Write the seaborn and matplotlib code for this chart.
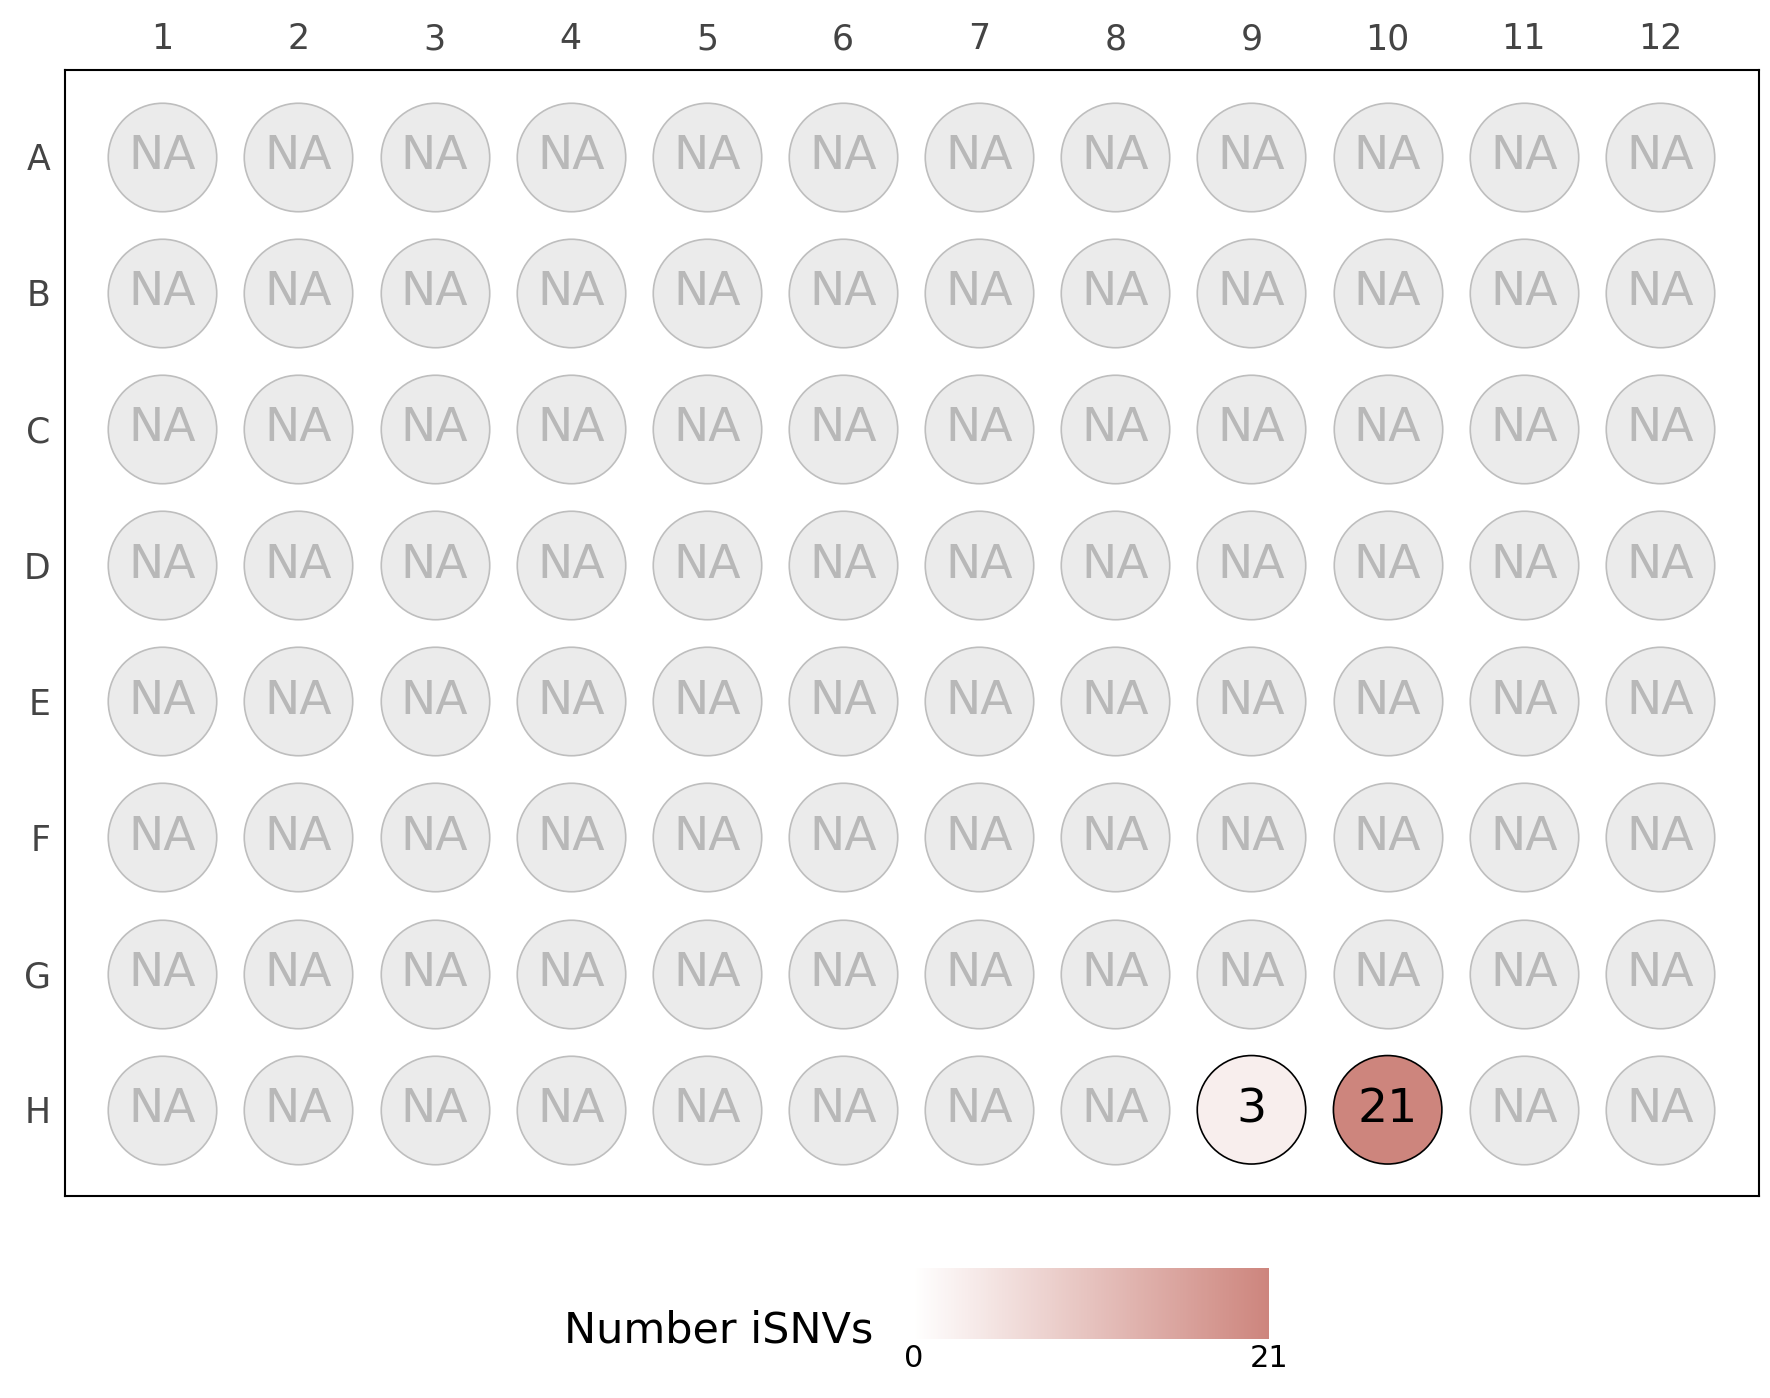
import numpy as np
import pandas as pd
import seaborn as sns
import matplotlib
matplotlib.use("Agg")
import matplotlib.pyplot as plt
from matplotlib.colors import LinearSegmentedColormap, Normalize

rows = ["A", "B", "C", "D", "E", "F", "G", "H"]
cols = list(range(1, 13))
filled_wells = ["H9", "H10"]
filled_values = [3, 21]

sns.set_theme(style="white")
plt.rcParams['font.family'] = ['DejaVu Sans']

recs = []
vals = dict(zip(filled_wells, filled_values))
for ri, r in enumerate(rows):
    for c in cols:
        recs.append(dict(row=ri + 1, col=c, value=vals.get(f"{r}{c}", np.nan)))
df = pd.DataFrame(recs)

cmap = LinearSegmentedColormap.from_list("w", ["#FFFFFF", "#CD857D"])
norm = Normalize(0, 21)

fig = plt.figure(figsize=(17.7, 13.98), dpi=100)
ax = fig.add_axes([0.0365, 0.1445, 0.9571, 0.8052])
na = df[df.value.isna()]
ok = df[df.value.notna()]
sns.scatterplot(data=na, x="col", y="row", s=6100, color="#EBEBEB",
                edgecolor="#BEBEBE", linewidth=1.2, ax=ax, legend=False)
sns.scatterplot(data=ok, x="col", y="row", hue="value", palette=cmap, hue_norm=norm,
                s=6100, edgecolor="black", linewidth=1.2, ax=ax, legend=False)
for _, rr in na.iterrows():
    ax.text(rr.col, rr.row, "NA", ha="center", va="center", fontsize=34, color="#B8B8B8")
for _, rr in ok.iterrows():
    ax.text(rr.col, rr.row, str(int(rr.value)), ha="center", va="center", fontsize=34, color="black")

ax.set_xlim(0.283, 12.725)
ax.set_ylim(8.633, 0.367)
ax.set_xticks(cols)
ax.set_xticklabels([str(c) for c in cols])
ax.set_yticks(range(1, 9))
ax.set_yticklabels(rows)
ax.xaxis.tick_top()
ax.tick_params(axis="both", labelsize=25, colors="#444444", length=0, pad=10)
ax.set_xlabel("")
ax.set_ylabel("")
for s in ax.spines.values():
    s.set_visible(True)
    s.set_color("black")
    s.set_linewidth(1.5)

cax = fig.add_axes([0.516, 0.042, 0.201, 0.051])
sm = plt.cm.ScalarMappable(norm=norm, cmap=cmap)
cb = fig.colorbar(sm, cax=cax, orientation="horizontal")
cb.outline.set_visible(False)
cb.set_ticks([0, 21])
cb.ax.tick_params(labelsize=22, length=0, colors="black")
fig.text(0.406, 0.048, "Number iSNVs", ha="center", va="center", fontsize=31, color="black")

fig.savefig("out.png", dpi=100)
